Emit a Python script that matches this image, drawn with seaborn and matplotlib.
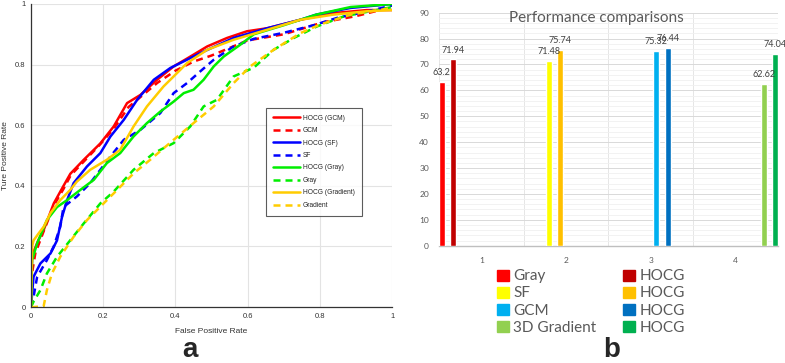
import numpy as np
import pandas as pd
import matplotlib
matplotlib.use('Agg')
import matplotlib.pyplot as plt
from matplotlib.patches import Patch
import seaborn as sns

# ---- (a) ROC curves ----
fpr_hocg_gcm = [0, 0.003, 0.02, 0.035, 0.063, 0.09, 0.109, 0.146, 0.192, 0.229, 0.266, 0.303, 0.349, 0.395, 0.432, 0.488, 0.543, 0.598, 0.654, 0.746, 0.838, 0.93, 1.0]
tpr_hocg_gcm = [0, 0.17, 0.22, 0.254, 0.342, 0.40, 0.44, 0.486, 0.54, 0.596, 0.673, 0.70, 0.75, 0.794, 0.82, 0.86, 0.888, 0.91, 0.92, 0.948, 0.97, 0.98, 0.98]

fpr_gcm = [0, 0.004, 0.012, 0.035, 0.063, 0.09, 0.11, 0.146, 0.19, 0.23, 0.27, 0.30, 0.35, 0.40, 0.45, 0.50, 0.60, 0.70, 0.81, 0.90, 1.0]
tpr_gcm = [0, 0.12, 0.178, 0.25, 0.335, 0.39, 0.435, 0.48, 0.535, 0.59, 0.66, 0.69, 0.74, 0.78, 0.81, 0.83, 0.88, 0.90, 0.94, 0.96, 0.99]

fpr_hocg_sf = [0, 0.007, 0.026, 0.054, 0.072, 0.086, 0.10, 0.118, 0.155, 0.192, 0.22, 0.257, 0.294, 0.34, 0.386, 0.469, 0.561, 0.654, 0.746, 0.79, 0.885, 1.0]
tpr_hocg_sf = [0, 0.10, 0.144, 0.177, 0.22, 0.298, 0.353, 0.409, 0.464, 0.508, 0.563, 0.618, 0.684, 0.75, 0.789, 0.838, 0.888, 0.92, 0.948, 0.965, 0.987, 1.0]

fpr_sf = [0, 0.007, 0.017, 0.044, 0.063, 0.081, 0.09, 0.127, 0.164, 0.22, 0.257, 0.303, 0.358, 0.395, 0.432, 0.469, 0.506, 0.561, 0.617, 0.70, 0.783, 0.85, 0.93, 1.0]
tpr_sf = [0, 0.034, 0.10, 0.155, 0.20, 0.265, 0.33, 0.365, 0.409, 0.497, 0.552, 0.585, 0.64, 0.706, 0.739, 0.778, 0.816, 0.86, 0.885, 0.905, 0.93, 0.955, 0.975, 0.995]

fpr_hocg_gray = [0, 0.003, 0.017, 0.044, 0.072, 0.10, 0.137, 0.174, 0.21, 0.247, 0.284, 0.321, 0.358, 0.395, 0.423, 0.45, 0.478, 0.506, 0.534, 0.58, 0.617, 0.70, 0.79, 0.885, 1.0]
tpr_hocg_gray = [0, 0.155, 0.21, 0.287, 0.33, 0.353, 0.387, 0.42, 0.475, 0.508, 0.563, 0.607, 0.645, 0.678, 0.706, 0.717, 0.75, 0.794, 0.827, 0.866, 0.90, 0.93, 0.965, 0.99, 1.0]

fpr_gray = [0, 0.007, 0.026, 0.044, 0.072, 0.109, 0.146, 0.192, 0.229, 0.284, 0.34, 0.395, 0.441, 0.478, 0.515, 0.561, 0.617, 0.672, 0.728, 0.792, 0.866, 1.0]
tpr_gray = [0, 0.018, 0.056, 0.111, 0.166, 0.221, 0.276, 0.342, 0.381, 0.453, 0.508, 0.541, 0.596, 0.662, 0.684, 0.761, 0.79, 0.849, 0.888, 0.926, 0.959, 0.99]

fpr_hocg_grad = [0, 0.003, 0.007, 0.021, 0.035, 0.054, 0.081, 0.109, 0.127, 0.164, 0.21, 0.247, 0.284, 0.321, 0.367, 0.395, 0.432, 0.488, 0.561, 0.654, 0.746, 0.838, 0.93, 1.0]
tpr_hocg_grad = [0, 0.20, 0.22, 0.243, 0.265, 0.31, 0.353, 0.387, 0.414, 0.453, 0.486, 0.519, 0.596, 0.662, 0.728, 0.761, 0.805, 0.849, 0.882, 0.915, 0.948, 0.965, 0.976, 0.98]

fpr_grad = [0, 0.007, 0.035, 0.044, 0.058, 0.081, 0.118, 0.155, 0.201, 0.238, 0.284, 0.33, 0.395, 0.45, 0.506, 0.561, 0.607, 0.672, 0.746, 0.80, 0.885, 1.0]
tpr_grad = [0, 0.0, 0.003, 0.056, 0.111, 0.166, 0.232, 0.287, 0.342, 0.386, 0.441, 0.486, 0.552, 0.607, 0.662, 0.739, 0.794, 0.849, 0.904, 0.932, 0.965, 0.987]

roc_names = ['HOCG (GCM)', 'GCM', 'HOCG (SF)', 'SF', 'HOCG (Gray)', 'Gray', 'HOCG (Gradient)', 'Gradient']
roc_fpr = [fpr_hocg_gcm, fpr_gcm, fpr_hocg_sf, fpr_sf, fpr_hocg_gray, fpr_gray, fpr_hocg_grad, fpr_grad]
roc_tpr = [tpr_hocg_gcm, tpr_gcm, tpr_hocg_sf, tpr_sf, tpr_hocg_gray, tpr_gray, tpr_hocg_grad, tpr_grad]
roc_colors = ['#FF0000', '#FF0000', '#0000FF', '#0000FF', '#00EE00', '#00EE00', '#FFCC00', '#FFCC00']
roc_dashed = [False, True, False, True, False, True, False, True]

# ---- (b) bar chart ----
categories = ['1', '2', '3', '4']
series = ['Gray', 'HOCG 1', 'SF', 'HOCG 2', 'GCM', 'HOCG 3', '3D Gradient', 'HOCG 4']
series_labels = ['Gray', 'HOCG', 'SF', 'HOCG', 'GCM', 'HOCG', '3D Gradient', 'HOCG']
series_cat = ['1', '1', '2', '2', '3', '3', '4', '4']
values = [63.2, 71.94, 71.48, 75.74, 75.32, 76.44, 62.62, 74.04]
bar_colors = ['#FF0000', '#C00000', '#FFFF00', '#FFC000', '#00B0F0', '#0070C0', '#92D050', '#00B050']

sns.set_style('white')
plt.rcParams['font.family'] = ['Liberation Sans', 'DejaVu Sans']
calibri_like = ['Lato', 'DejaVu Sans']

fig = plt.figure(figsize=(7.85, 3.63), dpi=100)

# ---------- left panel ----------
ax1 = fig.add_axes([0.0395, 0.154, 0.46, 0.835])
for name, x, y, c, d in zip(roc_names, roc_fpr, roc_tpr, roc_colors, roc_dashed):
    sns.lineplot(x=x, y=y, ax=ax1, color=c, lw=1.8, sort=False, estimator=None,
                 linestyle=(0, (2.8, 2.0)) if d else '-', label=name)
ax1.set_xlim(0, 1)
ax1.set_ylim(0, 1)
ax1.set_xticks([0, 0.2, 0.4, 0.6, 0.8, 1])
ax1.set_yticks([0, 0.2, 0.4, 0.6, 0.8, 1])
ax1.set_xticklabels(['0', '0.2', '0.4', '0.6', '0.8', '1'])
ax1.set_yticklabels(['0', '0.2', '0.4', '0.6', '0.8', '1'])
ax1.grid(True, color='#E3E3E3', lw=0.8)
ax1.tick_params(direction='in', length=3, labelsize=5.5, colors='#333333', pad=4)
for s in ['top', 'right']:
    ax1.spines[s].set_visible(False)
for s in ['left', 'bottom']:
    ax1.spines[s].set_color('#333333')
    ax1.spines[s].set_linewidth(0.9)
ax1.set_xlabel('False Positive Rate', fontsize=6, color='#333333', labelpad=6)
ax1.set_ylabel('Ture Positive Rate', fontsize=6, color='#333333', labelpad=4)
leg1 = ax1.legend(loc='upper left', bbox_to_anchor=(0.652, 0.657), fontsize=4.8,
                  handlelength=4.0, handletextpad=0.5, labelspacing=0.82, borderpad=1.0,
                  borderaxespad=0, frameon=True, fancybox=False, edgecolor='#333333')
leg1.get_frame().set_linewidth(0.8)
fig.text(0.242, 0.035, 'a', fontsize=20, fontweight='bold', ha='center', va='center')

# ---------- right panel ----------
df_bar = pd.DataFrame({'category': series_cat, 'series': series, 'value': values})
ax2 = fig.add_axes([0.559, 0.323, 0.432, 0.642])
sns.barplot(data=df_bar, x='category', y='value', hue='series', order=categories,
            hue_order=series, palette=bar_colors, saturation=1, width=1.06, gap=0.45,
            errorbar=None, legend=False, ax=ax2, zorder=3)
ax2.set_xlim(-0.5, 3.5)
ax2.set_ylim(0, 90)
ax2.set_yticks(np.arange(0, 91, 10))
ax2.set_yticks(np.arange(0, 91, 2), minor=True)
ax2.set_xticks([-0.5, 0.5, 1.5, 2.5, 3.5], minor=True)
ax2.grid(True, which='major', axis='y', color='#D9D9D9', lw=0.7, zorder=0)
ax2.grid(True, which='minor', axis='y', color='#F0F0F0', lw=0.6, zorder=0)
ax2.grid(True, which='minor', axis='x', color='#E6E6E6', lw=0.7, zorder=0)
ax2.set_axisbelow(True)
ax2.tick_params(which='both', length=0, labelsize=6, colors='#595959')
ax2.tick_params(axis='y', pad=7)
ax2.tick_params(axis='x', pad=8)
for lab in ax2.get_xticklabels() + ax2.get_yticklabels():
    lab.set_family(calibri_like)
for s in ['top', 'right', 'left']:
    ax2.spines[s].set_visible(False)
ax2.spines['bottom'].set_color('#BFBFBF')
ax2.spines['bottom'].set_linewidth(1.0)
ax2.set_xlabel('')
ax2.set_ylabel('')
ax2.set_title('Performance comparisons', fontsize=11, color='#595959',
              family=calibri_like, x=0.466, y=0.925)

for bar in ax2.patches:
    h = bar.get_height()
    if h > 0:
        ax2.annotate(f'{h:g}', (bar.get_x() + bar.get_width() / 2, h),
                     xytext=(0, 3.5), textcoords='offset points', ha='center',
                     va='bottom', fontsize=6.5, color='#404040', family=calibri_like)

order = [0, 2, 4, 6, 1, 3, 5, 7]
handles = [Patch(color=bar_colors[i]) for i in order]
labels = [series_labels[i] for i in order]
fig.legend(handles, labels, loc='center', bbox_to_anchor=(0.753, 0.168), ncol=2,
           frameon=False, prop={'family': calibri_like, 'size': 11},
           handlelength=0.75, handleheight=0.75, handletextpad=0.3,
           columnspacing=1.75, labelspacing=0.2, labelcolor='#595959')
fig.text(0.779, 0.035, 'b', fontsize=20, fontweight='bold', ha='center', va='center')

fig.savefig('out.png', dpi=100)
